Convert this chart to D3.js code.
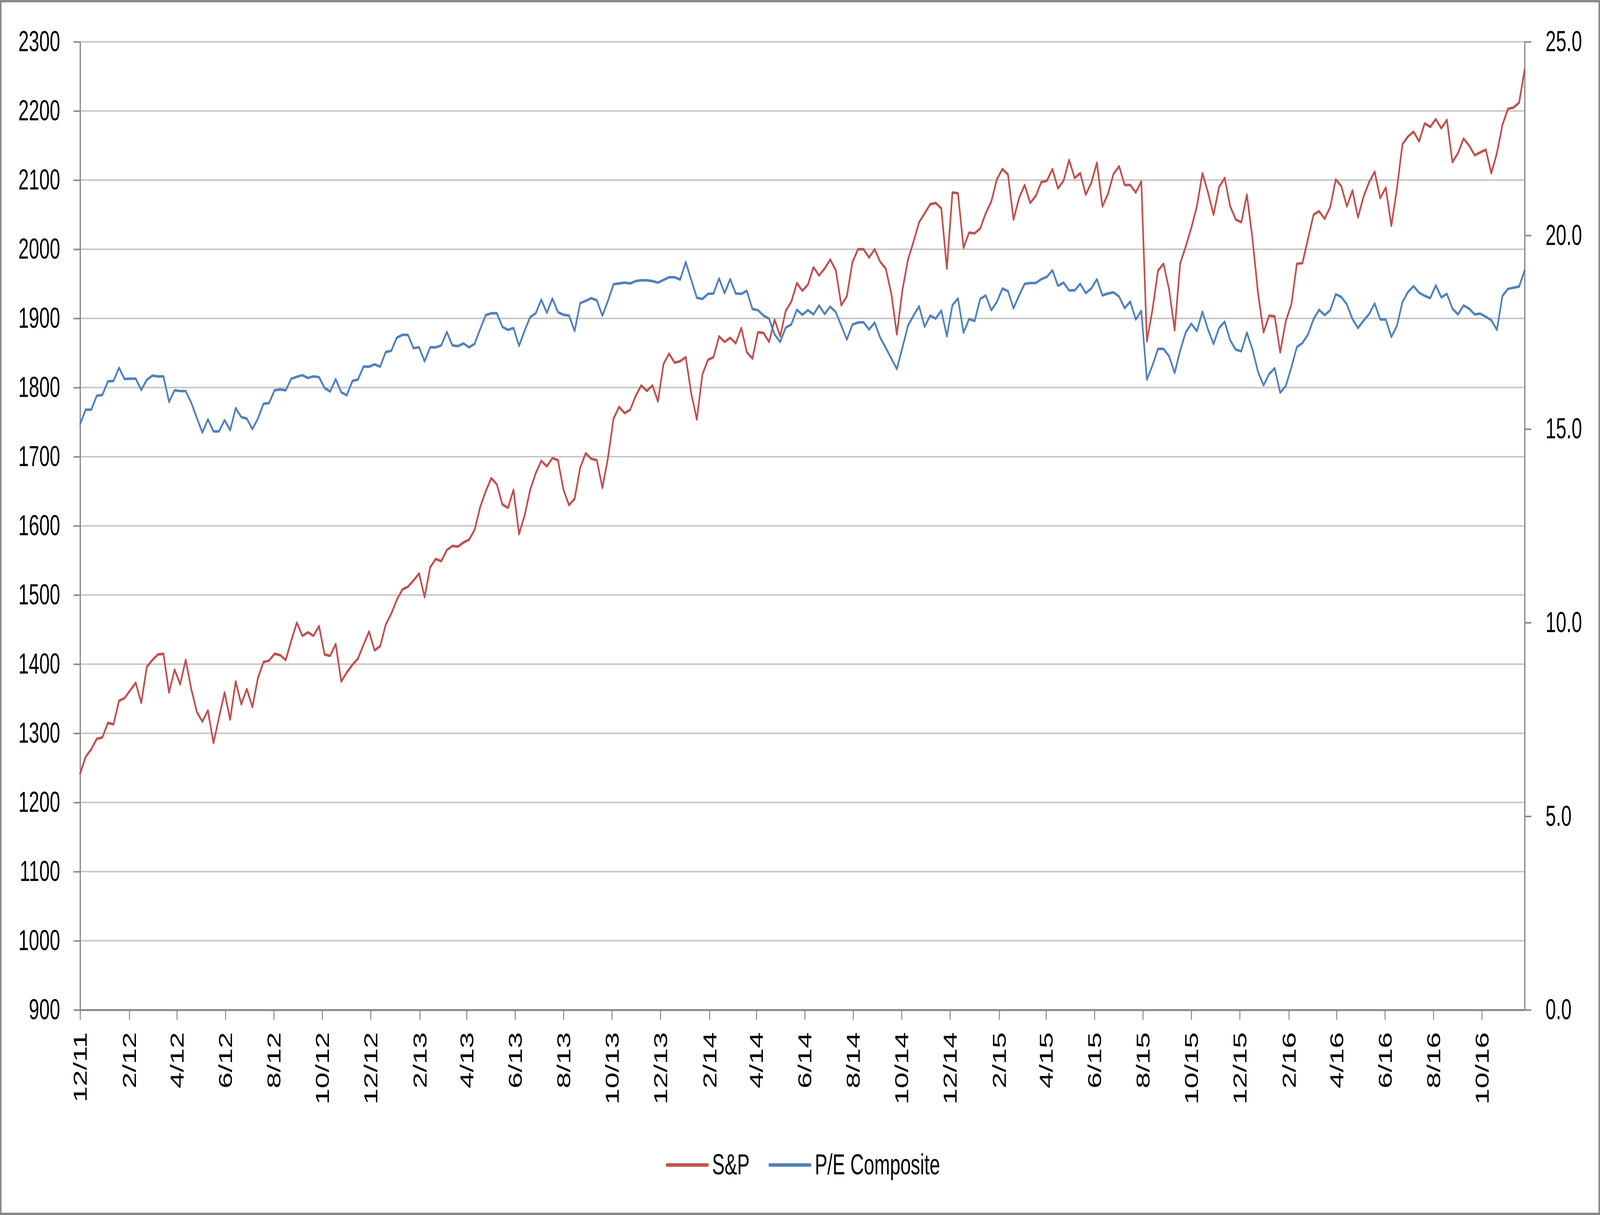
<!DOCTYPE html>
<html>
<head>
<meta charset="utf-8">
<script src="https://cdn.jsdelivr.net/npm/d3@7"></script>
<style>
  html, body { margin: 0; padding: 0; background: #fff; overflow: hidden; }
  text { font-family: 'Liberation Sans', Arial, sans-serif; fill: #000; }
</style>
</head>
<body>
<div id="mount"></div>
<script>
'use strict';

// weekly observations, first one in early December 2011
const startDate = new Date(2011, 11, 2);

// S&P 500 level (left axis)
const spValues = [
  1242, 1266, 1277, 1292, 1294, 1315, 1313, 1347, 1351, 1362, 1373, 1344, 1396, 1406, 1414, 1415,
  1359, 1392, 1371, 1406, 1364, 1331, 1317, 1333, 1286, 1323, 1359, 1320, 1375, 1342, 1364, 1338,
  1380, 1403, 1405, 1415, 1413, 1406, 1434, 1460, 1441, 1446, 1441, 1455, 1414, 1412, 1429, 1375,
  1388, 1399, 1408, 1428, 1447, 1420, 1426, 1457, 1473, 1493, 1508, 1512, 1521, 1531, 1497, 1540,
  1552, 1549, 1565, 1571, 1570, 1576, 1580, 1594, 1627, 1650, 1669, 1660, 1631, 1626, 1652, 1588,
  1615, 1652, 1676, 1694, 1686, 1698, 1695, 1652, 1630, 1639, 1684, 1705, 1697, 1695, 1655, 1698,
  1755, 1772, 1763, 1768, 1788, 1803, 1795, 1803, 1780, 1834, 1849, 1836, 1838, 1844, 1791, 1754,
  1819, 1840, 1844, 1874, 1866, 1872, 1864, 1886, 1851, 1842, 1880, 1879, 1866, 1898, 1874, 1911,
  1924, 1951, 1940, 1949, 1974, 1962, 1972, 1985, 1970, 1919, 1932, 1981, 2000, 2000, 1988, 2000,
  1982, 1972, 1936, 1877, 1941, 1985, 2011, 2039, 2052, 2065, 2067, 2059, 1972, 2082, 2081, 2002,
  2024, 2023, 2030, 2052, 2069, 2101, 2116, 2108, 2043, 2074, 2093, 2067, 2077, 2097, 2099, 2116,
  2088, 2099, 2129, 2103, 2110, 2079, 2096, 2125, 2062, 2080, 2109, 2120, 2093, 2093, 2082, 2098,
  1867, 1912, 1969, 1979, 1942, 1883, 1980, 2004, 2031, 2062, 2110, 2082, 2050, 2090, 2103, 2062,
  2043, 2039, 2079, 2016, 1937, 1880, 1904, 1903, 1851, 1896, 1920, 1979, 1980, 2015, 2050, 2055,
  2044, 2061, 2101, 2091, 2062, 2085, 2046, 2076, 2097, 2112, 2074, 2089, 2034, 2087, 2152, 2163,
  2170, 2156, 2182, 2177, 2188, 2175, 2187, 2126, 2139, 2160, 2150, 2136, 2140, 2144, 2110, 2139,
  2180, 2203, 2205, 2212, 2260
];

// P/E composite (right axis)
const peValues = [
  15.13, 15.50, 15.50, 15.86, 15.88, 16.23, 16.24, 16.58, 16.29, 16.30, 16.30, 16.01, 16.27, 16.38, 16.36, 16.36,
  15.70, 16.00, 15.98, 15.98, 15.68, 15.29, 14.91, 15.25, 14.94, 14.94, 15.23, 14.97, 15.54, 15.31, 15.27, 15.00,
  15.27, 15.65, 15.67, 16.00, 16.02, 16.00, 16.30, 16.35, 16.39, 16.32, 16.36, 16.34, 16.06, 15.97, 16.29, 15.95,
  15.87, 16.24, 16.28, 16.61, 16.61, 16.67, 16.61, 16.99, 17.02, 17.36, 17.43, 17.43, 17.09, 17.11, 16.75, 17.11,
  17.11, 17.16, 17.51, 17.16, 17.14, 17.21, 17.11, 17.20, 17.58, 17.94, 17.99, 17.99, 17.64, 17.56, 17.61, 17.15,
  17.54, 17.89, 17.99, 18.34, 18.00, 18.37, 18.02, 17.95, 17.93, 17.53, 18.25, 18.31, 18.38, 18.32, 17.93, 18.31,
  18.74, 18.76, 18.78, 18.76, 18.82, 18.84, 18.84, 18.82, 18.78, 18.85, 18.92, 18.92, 18.86, 19.31, 18.85, 18.39,
  18.36, 18.49, 18.50, 18.89, 18.51, 18.87, 18.50, 18.49, 18.57, 18.10, 18.07, 17.93, 17.85, 17.44, 17.25, 17.62,
  17.70, 18.08, 17.95, 18.07, 17.96, 18.19, 17.97, 18.16, 18.02, 17.67, 17.31, 17.70, 17.75, 17.76, 17.57, 17.75,
  17.36, 17.10, 16.82, 16.55, 17.10, 17.67, 17.93, 18.17, 17.64, 17.93, 17.85, 18.06, 17.40, 18.20, 18.37, 17.49,
  17.84, 17.79, 18.36, 18.45, 18.07, 18.28, 18.63, 18.56, 18.12, 18.45, 18.75, 18.77, 18.77, 18.87, 18.93, 19.10,
  18.70, 18.78, 18.58, 18.58, 18.75, 18.51, 18.63, 18.87, 18.45, 18.50, 18.53, 18.42, 18.12, 18.29, 17.83, 18.05,
  16.28, 16.64, 17.07, 17.07, 16.88, 16.45, 17.03, 17.50, 17.72, 17.53, 18.03, 17.57, 17.20, 17.61, 17.77, 17.29,
  17.05, 17.01, 17.49, 17.06, 16.48, 16.13, 16.42, 16.57, 15.94, 16.11, 16.59, 17.12, 17.22, 17.44, 17.84, 18.08,
  17.94, 18.07, 18.48, 18.41, 18.22, 17.84, 17.61, 17.80, 17.97, 18.24, 17.83, 17.83, 17.38, 17.66, 18.28, 18.54,
  18.69, 18.52, 18.44, 18.38, 18.71, 18.40, 18.49, 18.11, 17.96, 18.19, 18.11, 17.96, 17.98, 17.90, 17.81, 17.56,
  18.44, 18.62, 18.65, 18.68, 19.10
];

const leftTicks = [900, 1000, 1100, 1200, 1300, 1400, 1500, 1600, 1700, 1800, 1900, 2000, 2100, 2200, 2300];
const rightTicks = [0, 5, 10, 15, 20, 25];
const dateTickLabels = ['12/11', '2/12', '4/12', '6/12', '8/12', '10/12', '12/12', '2/13', '4/13', '6/13',
  '8/13', '10/13', '12/13', '2/14', '4/14', '6/14', '8/14', '10/14', '12/14', '2/15', '4/15', '6/15',
  '8/15', '10/15', '12/15', '2/16', '4/16', '6/16', '8/16', '10/16'];
const seriesNames = ['S&P', 'P/E Composite'];

// drawing is laid out in a 6309 x 3110 box and scaled to fill the window
const width = 6309, height = 3110;
const plot = { left: 316, right: 6012, top: 107, bottom: 2585 };
const red = '#c0504d', blue = '#4f81bd', axisGrey = '#898989', gridGrey = '#c8c8c8';

const dates = spValues.map((d, i) => d3.timeDay.offset(startDate, 7 * i));
const tickDates = dateTickLabels.map((d, i) => d3.timeMonth.offset(startDate, 2 * i));

const x = d3.scaleTime().domain([dates[0], dates[dates.length - 1]]).range([plot.left, plot.right]);
const yLeft = d3.scaleLinear().domain([900, 2300]).range([plot.bottom, plot.top]);
const yRight = d3.scaleLinear().domain([0, 25]).range([plot.bottom, plot.top]);

const svg = d3.select('#mount').append('svg')
    .attr('viewBox', `0 0 ${width} ${height}`)
    .attr('preserveAspectRatio', 'none')
    .style('width', '100vw')
    .style('height', '100vh')
    .style('display', 'block');

svg.append('rect')
    .attr('x', 3).attr('y', 3)
    .attr('width', width - 6).attr('height', height - 6)
    .attr('fill', '#fff')
    .attr('stroke', axisGrey)
    .attr('stroke-width', 6);

// horizontal gridlines from the left axis
svg.append('g').selectAll('line')
    .data(leftTicks)
  .enter().append('line')
    .attr('x1', plot.left).attr('x2', plot.right)
    .attr('y1', d => yLeft(d)).attr('y2', d => yLeft(d))
    .attr('stroke', gridGrey)
    .attr('stroke-width', 4);

function styleAxis(g) {
  g.select('.domain').attr('stroke', axisGrey).attr('stroke-width', 5);
  g.selectAll('.tick line').attr('stroke', axisGrey).attr('stroke-width', 4);
  g.selectAll('.tick text').attr('fill', '#000').attr('font-family', null).style('font-size', '74px');
}

svg.append('g')
    .attr('transform', `translate(${plot.left},0)`)
    .call(d3.axisLeft(yLeft).tickValues(leftTicks).tickSize(26).tickSizeOuter(0).tickPadding(53).tickFormat(d3.format('d')))
    .call(styleAxis);

svg.append('g')
    .attr('transform', `translate(${plot.right},0)`)
    .call(d3.axisRight(yRight).tickValues(rightTicks).tickSize(26).tickSizeOuter(0).tickPadding(56).tickFormat(d3.format('.1f')))
    .call(styleAxis);

svg.append('g')
    .attr('transform', `translate(0,${plot.bottom})`)
    .call(d3.axisBottom(x).tickValues(tickDates).tickSize(25).tickSizeOuter(0).tickFormat((d, i) => dateTickLabels[i]))
    .call(styleAxis)
    .call(g => g.selectAll('.tick text')
        .attr('transform', 'rotate(-90)')
        .attr('x', -57)
        .attr('y', 0)
        .attr('dy', '0.35em')
        .attr('text-anchor', 'end'));

// the two series
const spLine = d3.line()
    .x((d, i) => x(dates[i]))
    .y(d => yLeft(d));

const peLine = d3.line()
    .x((d, i) => x(dates[i]))
    .y(d => yRight(d));

svg.append('path')
    .datum(spValues)
    .attr('d', spLine)
    .attr('fill', 'none')
    .attr('stroke', red)
    .attr('stroke-width', 6.5)
    .attr('stroke-linejoin', 'round')
    .attr('stroke-linecap', 'round');

svg.append('path')
    .datum(peValues)
    .attr('d', peLine)
    .attr('fill', 'none')
    .attr('stroke', blue)
    .attr('stroke-width', 6.5)
    .attr('stroke-linejoin', 'round')
    .attr('stroke-linecap', 'round');

// legend
const legend = svg.append('g').attr('transform', 'translate(0,2982)');
const legendItems = [
  { name: seriesNames[0], color: red, x: 2630 },
  { name: seriesNames[1], color: blue, x: 3035 }
];

legend.selectAll('line')
    .data(legendItems)
  .enter().append('line')
    .attr('x1', d => d.x).attr('x2', d => d.x + 160)
    .attr('y1', 0).attr('y2', 0)
    .attr('stroke', d => d.color)
    .attr('stroke-width', 9)
    .attr('stroke-linecap', 'round');

legend.selectAll('text')
    .data(legendItems)
  .enter().append('text')
    .attr('x', d => d.x + 178)
    .attr('y', 0)
    .attr('dy', '0.33em')
    .style('font-size', '74px')
    .text(d => d.name);
</script>
</body>
</html>
